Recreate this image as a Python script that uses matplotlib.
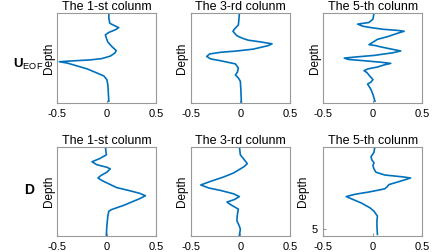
import numpy as np
import matplotlib
matplotlib.use("Agg")
import matplotlib.pyplot as plt

plt.rcParams['font.family'] = ['Liberation Sans', 'DejaVu Sans']
plt.rcParams['mathtext.fontset'] = 'custom'
plt.rcParams['mathtext.rm'] = 'Liberation Sans'
plt.rcParams['mathtext.bf'] = 'Liberation Sans:bold'

# depth axis runs 0 (top) .. 5.4 (bottom)
titles = ['The 1-st colunm', 'The 3-rd colunm', 'The 5-th colunm']
row_labels = [r'$\mathbf{U}_{\mathrm{EOF}}$', r'$\mathbf{D}$']

# U_EOF, column 1
u1_x = [0.02, 0.02, 0.03, 0.08, 0.12, 0.09, 0.02, -0.015, -0.005, 0.01, 0.05, 0.095, 0.08, 0.035,
        -0.05, -0.17, -0.35, -0.48, -0.40, -0.20, -0.10, -0.03, 0.0, 0.01, 0.015, 0.02]
u1_d = [0.0, 0.3, 0.6, 0.75, 0.86, 0.98, 1.15, 1.3, 1.5, 1.73, 2.0, 2.25, 2.4, 2.58,
        2.73, 2.81, 2.87, 2.92, 3.0, 3.35, 3.6, 3.78, 4.0, 4.3, 4.8, 5.3]
# U_EOF, column 3
u3_x = [-0.01, -0.015, -0.02, -0.06, -0.075, -0.05, -0.035, 0.02, 0.08, 0.20, 0.32, 0.28, 0.13,
        -0.05, -0.20, -0.31, -0.34, -0.30, -0.20, -0.05, -0.02, -0.03, -0.05, -0.02, 0.0, 0.005, 0.01]
u3_d = [0.0, 0.4, 0.7, 0.95, 1.08, 1.25, 1.35, 1.5, 1.62, 1.72, 1.84, 1.95, 2.16,
        2.28, 2.35, 2.45, 2.6, 2.75, 2.86, 3.05, 3.3, 3.55, 3.72, 3.9, 4.1, 4.6, 5.35]
# U_EOF, column 5
u5_x = [0.01, 0.0, -0.04, -0.155, -0.10, -0.02, 0.10, 0.25, 0.315, 0.25, 0.15, 0.045, -0.04,
        0.03, 0.06, 0.18, 0.28, 0.20, 0.01, -0.15, -0.29, -0.25, -0.09, 0.08, 0.18, 0.12, 0.045,
        -0.05, -0.09, -0.06, -0.04, 0.0, -0.02, -0.055, -0.04, -0.02, 0.0, 0.02]
u5_d = [0.0, 0.35, 0.55, 0.65, 0.78, 0.86, 0.96, 1.03, 1.08, 1.2, 1.4, 1.57, 1.89,
        1.95, 2.0, 2.15, 2.27, 2.38, 2.54, 2.62, 2.7, 2.78, 2.86, 2.95, 3.02, 3.1, 3.24,
        3.35, 3.46, 3.58, 3.73, 4.0, 4.15, 4.27, 4.4, 4.6, 4.9, 5.3]
# D, column 1
d1_x = [-0.015, -0.01, -0.005, -0.07, -0.15, -0.10, 0.0, 0.035, 0.0, -0.06, -0.09, -0.05, 0.03,
        0.10, 0.22, 0.33, 0.39, 0.33, 0.17, 0.05, 0.02, 0.01, 0.0, -0.005]
d1_d = [0.0, 0.25, 0.5, 0.72, 0.92, 1.1, 1.25, 1.35, 1.55, 1.75, 1.9, 2.05, 2.28,
        2.48, 2.65, 2.82, 2.97, 3.15, 3.55, 3.8, 3.9, 4.2, 4.8, 5.35]
# D, column 3
d3_x = [-0.01, -0.005, 0.0, 0.04, 0.07, 0.04, 0.0, -0.07, -0.17, -0.30, -0.40, -0.32, -0.20,
        -0.07, -0.01, -0.06, -0.135, -0.10, -0.02, -0.03, -0.035, -0.01, 0.0, -0.01]
d3_d = [0.0, 0.25, 0.5, 0.8, 1.03, 1.2, 1.35, 1.6, 1.84, 2.1, 2.32, 2.5, 2.65,
        2.85, 3.02, 3.2, 3.35, 3.5, 3.78, 4.1, 4.48, 4.8, 5.0, 5.35]
# D, column 5
d5_x = [0.02, 0.01, -0.02, -0.01, 0.01, 0.0, 0.01, 0.03, 0.12, 0.30, 0.38, 0.30, 0.16, 0.145,
        0.12, 0.04, -0.055, -0.18, -0.27, -0.22, -0.12, -0.03, 0.01, 0.045, 0.04, 0.04, 0.045]
d5_d = [0.0, 0.35, 0.62, 0.82, 0.97, 1.15, 1.35, 1.55, 1.72, 1.83, 1.9, 2.05, 2.3, 2.42,
        2.55, 2.65, 2.76, 2.88, 3.02, 3.15, 3.4, 3.7, 3.9, 4.2, 4.5, 4.8, 5.3]

curves = [[(u1_x, u1_d), (u3_x, u3_d), (u5_x, u5_d)],
          [(d1_x, d1_d), (d3_x, d3_d), (d5_x, d5_d)]]

fig = plt.figure(figsize=(4.48, 2.52), dpi=100)
lefts = [0.128, 0.426, 0.722]
bottoms = [0.592, 0.0635]
w, h = 0.221, 0.355

for r in range(2):
    for c in range(3):
        ax = fig.add_axes([lefts[c], bottoms[r], w, h])
        x, d = curves[r][c]
        ax.plot(x, d, color='#0072BD', lw=1.2)
        ax.set_xlim(-0.5, 0.5)
        ax.set_ylim(5.4, 0)
        ax.set_xticks([-0.5, 0, 0.5])
        ax.set_xticklabels(['-0.5', '0', '0.5'])
        if r == 1 and c == 2:
            ax.set_yticks([5])
        else:
            ax.set_yticks([])
        ax.tick_params(direction='in', length=2.5, labelsize=8, color='#999999', pad=4.5)
        ax.tick_params(axis='y', pad=4)
        for s in ax.spines.values():
            s.set_color('#999999')
            s.set_linewidth(0.8)
        ax.set_title(titles[c], fontsize=9, pad=2)
        ax.set_ylabel('Depth', fontsize=8.5, labelpad=2)

fig.text(0.063, 0.745, row_labels[0], fontsize=9.5, ha='center', va='center')
fig.text(0.067, 0.245, row_labels[1], fontsize=10, ha='center', va='center')

fig.savefig('out.png', dpi=100)
